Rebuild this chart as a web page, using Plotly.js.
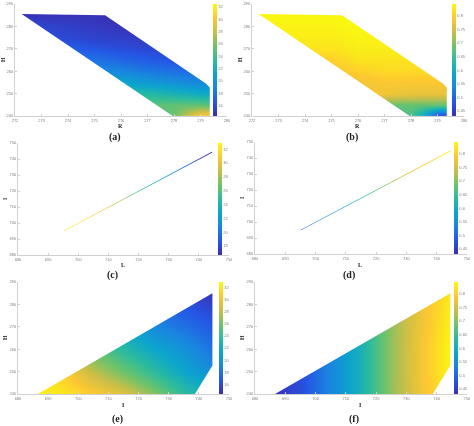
<!DOCTYPE html>
<html><head><meta charset="utf-8">
<script src="https://cdn.plot.ly/plotly-3.0.1.min.js"></script>
<style>html,body{margin:0;padding:0;background:#fff}#c{width:474px;height:426px;filter:blur(0.45px)}</style>
</head><body><div id="c"></div>
<script>
// ---------- data ----------
var rTicks=[272,273,274,275,276,277,278,279,280];
var hTicks=[240,250,260,270,280,290];
var lTicks=[680,690,700,710,720,730,740,750];
var cbTicksA=[16,18,20,22,24,26,28,30,32];
var cbTicksC=[18,20,22,24,26,28,30,32];
var cbTicksB=[0.45,0.5,0.55,0.6,0.65,0.7,0.75,0.8];

var gridRA=[272.25,273,274,275,276,277,278,278.5,279,279.35];
var gridHA=[240,245,250,255,260,265,270,275,280,285.5];
var zA=[
 [24,24,24,24,24,24,25.5,28,30.5,30.5],
 [25,25,25,25,25,25,25.2,25.3,25.2,25],
 [23,23,23,23,23,23,22.3,22,21.6,21.5],
 [21,21,21,21,21,20.2,19.6,19.3,19,19],
 [19.5,19.5,19.5,19.2,19,18.2,17.8,17.6,17.5,17.4],
 [18.5,18.5,18.3,18,17.3,16.8,16.5,16.4,16.3,16.2],
 [17.2,17.2,16.9,16.5,16.1,15.8,15.5,15.4,15.3,15.2],
 [16.2,16,15.8,15.5,15.3,15,15,15,15,15],
 [15.7,15.6,15.3,15,14.7,14.6,14.6,14.6,14.6,14.6],
 [14.6,14.6,14.6,14.5,14.5,14.5,14.5,14.5,14.5,14.5]];
var zB=[
 [0.66,0.66,0.66,0.66,0.66,0.66,0.66,0.58,0.46,0.45],
 [0.68,0.68,0.68,0.68,0.68,0.68,0.68,0.68,0.68,0.68],
 [0.78,0.78,0.78,0.78,0.78,0.78,0.77,0.77,0.77,0.77],
 [0.79,0.79,0.79,0.79,0.78,0.79,0.79,0.79,0.79,0.79],
 [0.8,0.8,0.8,0.79,0.8,0.81,0.81,0.81,0.81,0.81],
 [0.81,0.81,0.8,0.8,0.82,0.82,0.82,0.82,0.82,0.82],
 [0.82,0.82,0.82,0.82,0.83,0.83,0.83,0.83,0.83,0.83],
 [0.83,0.83,0.83,0.83,0.835,0.835,0.835,0.835,0.835,0.835],
 [0.835,0.835,0.835,0.835,0.84,0.84,0.84,0.84,0.84,0.84],
 [0.84,0.84,0.84,0.84,0.84,0.84,0.84,0.84,0.84,0.84]];

var gridLC=[695,705,715,720,725,730,735,740,744.5];
var zC=[32.4,31,28,25.5,23.7,21.8,19.6,17.2,15.2];
var zD=[0.49,0.555,0.617,0.67,0.72,0.76,0.79,0.815,0.84];

var gridIE=[686,695,705,715,725,735,744.5];
var gridHE=[240,250,260,270,285.5];
var zE=[
 [32.5,32,30.7,29.2,26.6,23.6,22.2],
 [32,30.7,28.1,25.9,23.6,21.4,19.6],
 [30.1,27.7,25.5,23.3,21.4,20,18.1],
 [27.4,25.5,23.6,21.4,19.4,18.1,16.8],
 [23.6,21.8,20,18.1,16.6,15.5,14.8]];
var zF=[
 [0.44,0.472,0.54,0.61,0.71,0.78,0.83],
 [0.44,0.472,0.54,0.61,0.71,0.785,0.84],
 [0.44,0.472,0.54,0.61,0.71,0.785,0.84],
 [0.44,0.472,0.54,0.61,0.71,0.78,0.835],
 [0.44,0.472,0.54,0.61,0.71,0.78,0.825]];

var maskAupperX=[272,272.25,275.4,279.2,279.35,279.35,280,280,272], maskAupperY=[285.5,285.5,285,254.5,252.7,240,240,290,290];
var maskAlowerX=[272,272.25,277.95,272], maskAlowerY=[286,285.5,240,240];
var maskCupperX=[680,695,695,744.5,744.5,750,750,680], maskCupperY=[694,694,695,744.7,744,744,750,750];
var maskClowerX=[680,695,695,744.5,744.5,750,750,680], maskClowerY=[696,696,694.7,744.1,745,745,680,680];
var maskEupperX=[680,686.6,744.5,750,750,680], maskEupperY=[240,240,285,285,290,290];
var maskElowerX=[738.7,744.5,744.5,745,750,750], maskElowerY=[240,252.7,285,286,286,240];

var parula=[[0,'#3b2db0'],[0.125,'#2557e6'],[0.25,'#1a85e0'],[0.375,'#0ca6cc'],[0.5,'#2ebc9c'],[0.625,'#70c36a'],[0.75,'#c8bf48'],[0.875,'#fec832'],[1,'#f9fb0e']];

// ---------- layout in page pixels ----------
var W=474,H=426;
var panels=[
 {n:1,l:15,r:227,t:4,b:116,xt:rTicks,yt:hTicks,cb:[213,cbTicksA,14.3,32.5]},
 {n:2,l:252,r:464,t:4,b:116,xt:rTicks,yt:hTicks,cb:[452,cbTicksB,0.432,0.843]},
 {n:3,l:18,r:229,t:143,b:255,xt:lTicks,yt:lTicks,cb:[218,cbTicksC,16.7,32.9]},
 {n:4,l:255,r:467,t:142,b:254,xt:lTicks,yt:lTicks,cb:[454,cbTicksB,0.432,0.843]},
 {n:5,l:18,r:229,t:282,b:394,xt:lTicks,yt:hTicks,cb:[219,cbTicksA,14.4,32.9]},
 {n:6,l:255,r:467,t:282,b:394,xt:lTicks,yt:hTicks,cb:[454,cbTicksB,0.432,0.843]}];
var grey='#808080';
var layout={width:W,height:H,margin:{l:0,r:0,t:0,b:0},paper_bgcolor:'#fff',plot_bgcolor:'#fff',showlegend:false,annotations:[]};
var traces=[];
panels.forEach(function(p){
  var s=p.n===1?'':p.n;
  var ax={showline:true,linecolor:'#d0d0d0',linewidth:1,showgrid:false,zeroline:false,ticks:'inside',ticklen:2,tickcolor:'#d0d0d0',tickfont:{size:4,color:grey,family:'Liberation Sans'},fixedrange:true,layer:'above traces'};
  layout['xaxis'+s]=Object.assign({},ax,{domain:[p.l/W,p.r/W],anchor:'y'+s,range:[p.xt[0],p.xt[p.xt.length-1]],tickvals:p.xt,ticktext:p.xt.map(String)});
  layout['yaxis'+s]=Object.assign({},ax,{domain:[1-p.b/H,1-p.t/H],anchor:'x'+s,range:[p.yt[0],p.yt[p.yt.length-1]],tickvals:p.yt,ticktext:p.yt.map(String)});
  layout['coloraxis'+s]={cmin:p.cb[2],cmax:p.cb[3],colorscale:parula,colorbar:{thickness:4,thicknessmode:'pixels',len:(p.b-p.t)/H,lenmode:'fraction',x:p.cb[0]/W,xanchor:'left',xpad:0,y:1-p.b/H,yanchor:'bottom',ypad:0,outlinewidth:0,ticks:'',tickvals:p.cb[1],ticktext:p.cb[1].map(String),tickfont:{size:4,color:grey,family:'Liberation Sans'}}};
});
function heat(n,x,y,z){var s=n===1?'':n;traces.push({type:'heatmap',x:x,y:y,z:z,zsmooth:'best',coloraxis:'coloraxis'+s,xaxis:'x'+s,yaxis:'y'+s,hoverinfo:'skip'});}
function mask(n,x,y){var s=n===1?'':n;traces.push({type:'scatter',mode:'lines',x:x,y:y,fill:'toself',fillcolor:'#fff',line:{width:0,color:'#fff'},xaxis:'x'+s,yaxis:'y'+s,hoverinfo:'skip'});}

heat(1,gridRA,gridHA,zA); mask(1,maskAupperX,maskAupperY); mask(1,maskAlowerX,maskAlowerY);
heat(2,gridRA,gridHA,zB); mask(2,maskAupperX,maskAupperY); mask(2,maskAlowerX,maskAlowerY);
var lineRows=[694,746];
heat(3,gridLC,lineRows,[zC,zC]); mask(3,maskCupperX,maskCupperY); mask(3,maskClowerX,maskClowerY);
heat(4,gridLC,lineRows,[zD,zD]); mask(4,maskCupperX,maskCupperY); mask(4,maskClowerX,maskClowerY);
heat(5,gridIE,gridHE,zE); mask(5,maskEupperX,maskEupperY); mask(5,maskElowerX,maskElowerY);
heat(6,gridIE,gridHE,zF); mask(6,maskEupperX,maskEupperY); mask(6,maskElowerX,maskElowerY);

// ---------- text ----------
function label(t,px,py,size,rot,bold){layout.annotations.push({text:bold?'<b>'+t+'</b>':t,xref:'paper',yref:'paper',x:px/W,y:1-py/H,xanchor:'center',yanchor:'middle',showarrow:false,textangle:rot||0,font:{family:'Liberation Serif',size:size,color:'#222'}});}
[['(a)',115,137],['(b)',352,137],['(c)',112,275],['(d)',349,275],['(e)',117,419],['(f)',354,419]].forEach(function(a){label(a[0],a[1],a[2],10,0,true);});
[['R',120,126],['R',357,126],['L',123,265],['L',360,265],['I',123,405],['I',360,405]].forEach(function(a){label(a[0],a[1],a[2],6,0,true);});
[['H',3,60],['H',240,60],['I',5,199],['I',242,198],['H',5,338],['H',242,338]].forEach(function(a){label(a[0],a[1],a[2],6,-90,true);});

Plotly.newPlot('c',traces,layout,{displayModeBar:false,staticPlot:true});
</script></body></html>
